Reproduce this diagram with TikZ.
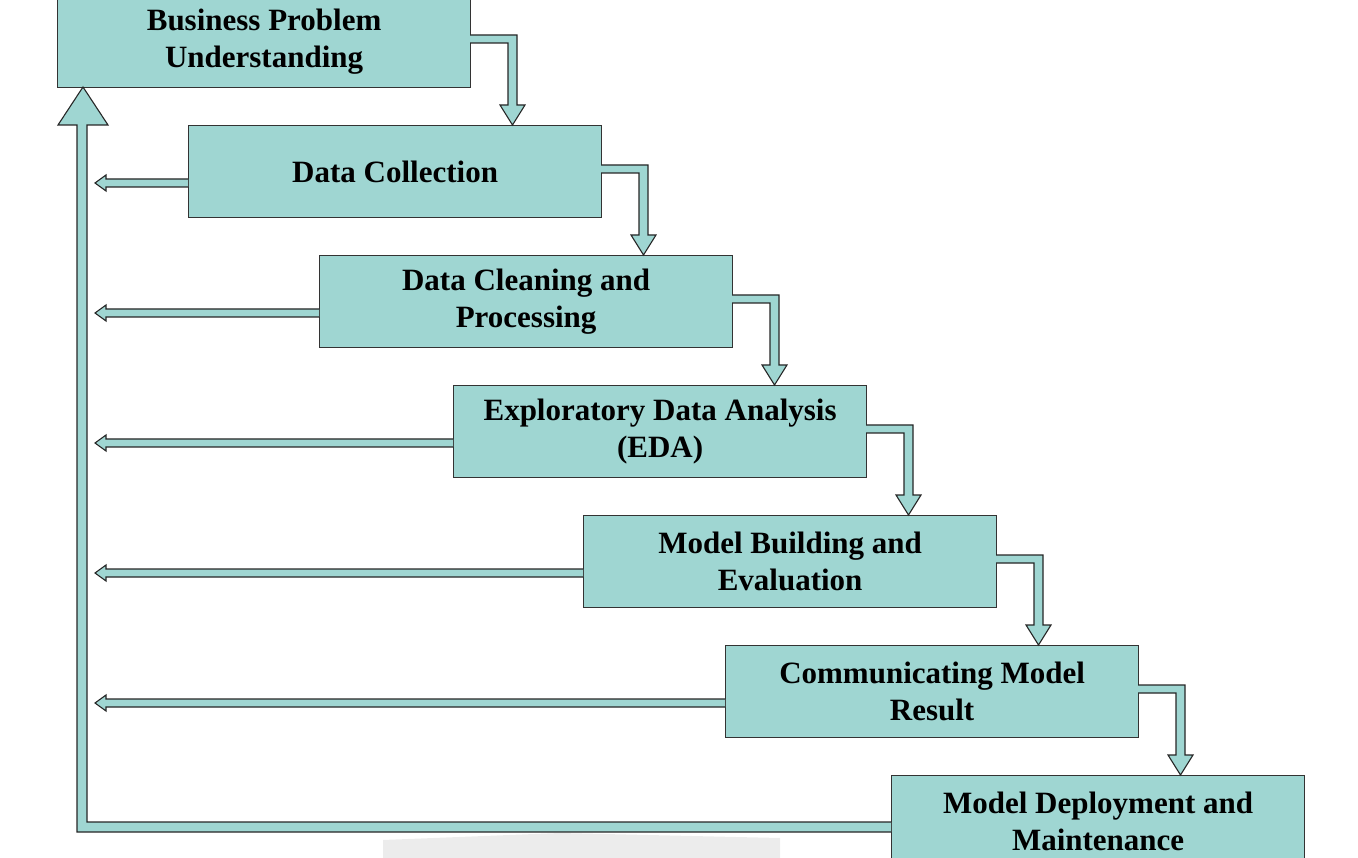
\documentclass[tikz,border=0pt]{standalone}
\usepackage{fontspec}
\setmainfont{Liberation Serif}
\begin{document}
\begin{tikzpicture}[x=1pt,y=-1pt,
  box/.style={draw=black!80,line width=1.2pt,fill=boxc,minimum width=413pt,minimum height=92pt,align=center,font=\bfseries\fontsize{31}{37}\selectfont,anchor=north west,inner sep=0pt},
  arr/.style={draw=black!85,line width=1.1pt,fill=boxc,line join=miter}]
\definecolor{boxc}{HTML}{9FD6D2}
\useasboundingbox (0,0) rectangle (1358,858);
\fill[gray!15] (383,840) -- (560,833) -- (780,838) -- (780,858) -- (383,858) -- cycle;
\node[box] (b1) at (57,-5) {Business Problem\\Understanding};
\node[box] (b2) at (188,125) {Data Collection};
\node[box] (b3) at (319,255) {Data Cleaning and\\Processing};
\node[box] (b4) at (453,385) {Exploratory Data Analysis\\(EDA)};
\node[box] (b5) at (583,515) {Model Building and\\Evaluation};
\node[box] (b6) at (725,645) {Communicating Model\\Result};
\node[box] (b7) at (891,775) {Model Deployment and\\Maintenance};
% right/down connectors
\foreach \R/\T in {470/-5,601/125,732/255,866/385,996/515,1138/645}{
  \pgfmathsetmacro{\N}{\T+130}
  \draw[arr] (\R,\T+40) -- (\R+47,\T+40) -- (\R+47,\N-20) -- (\R+55,\N-20) -- (\R+42.5,\N) -- (\R+30,\N-20) -- (\R+38,\N-20) -- (\R+38,\T+48) -- (\R,\T+48);
}
% left connectors
\foreach \L/\T in {188/125,319/255,453/385,583/515,725/645}{
  \draw[arr] (\L,\T+54) -- (106,\T+54) -- (106,\T+50) -- (95,\T+58) -- (106,\T+66) -- (106,\T+62) -- (\L,\T+62);
}
% big loop
\draw[arr] (b7.west |- 0,822) -- (87,822) -- (87,125) -- (108,125) -- (83,87) -- (58,125) -- (77,125) -- (77,832) -- (891,832);
\end{tikzpicture}
\end{document}
